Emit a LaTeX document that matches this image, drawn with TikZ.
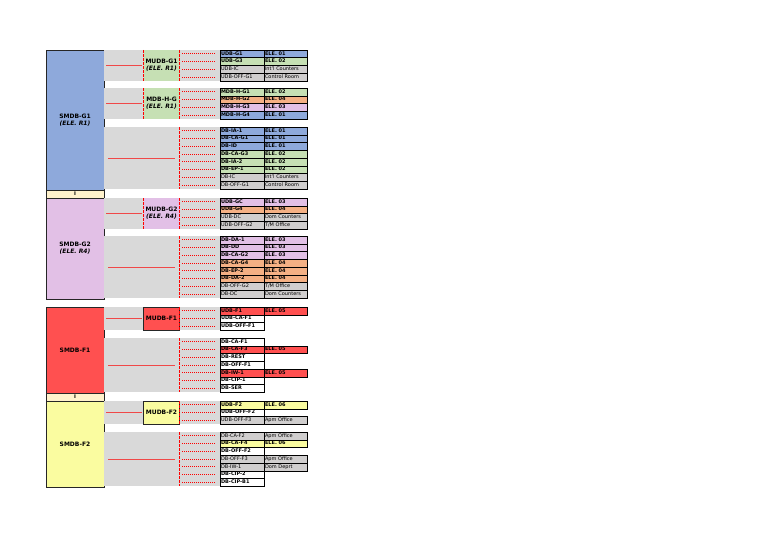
\documentclass[tikz,border=0pt]{standalone}
\usepackage{fontspec}
\setmainfont{DejaVu Sans}
\usetikzlibrary{calc, positioning}

\definecolor{eleblue}{HTML}{8EA9DB}
\definecolor{elegreen}{HTML}{C6E0B4}
\definecolor{elelilac}{HTML}{E2C0E6}
\definecolor{eleorange}{HTML}{F4B084}
\definecolor{elegray}{HTML}{D0CECE}
\definecolor{elered}{HTML}{FF5050}
\definecolor{eleyellow}{HTML}{FAFCA0}
\definecolor{eletie}{HTML}{FFF2CC}
\definecolor{bandgray}{HTML}{D9D9D9}
\definecolor{busred}{HTML}{FF0000}
\definecolor{feedred}{HTML}{F04848}

\tikzstyle{smdb}=[draw=black!85, line width=0.7pt, outer sep=0pt, minimum width=58pt, anchor=north west, inner sep=0pt, align=center, font=\fontsize{6}{7}\selectfont\bfseries]
\tikzstyle{tie}=[draw=black!85, line width=0.6pt, outer sep=0pt, fill=eletie, minimum width=58pt, minimum height=8pt, inner sep=0pt, font=\fontsize{5}{5}\selectfont\bfseries]
\tikzstyle{band}=[fill=bandgray, minimum width=116pt, anchor=north west, inner sep=0pt, outer sep=0pt]
\tikzstyle{mudb}=[minimum width=36pt, anchor=north west, inner sep=0pt, outer sep=0pt, align=center, font=\fontsize{6}{7}\selectfont\bfseries]
\tikzstyle{dbcell}=[draw=black, line width=0.5pt, outer sep=0pt, anchor=north west, minimum width=44pt, minimum height=7.75pt, text width=42pt, text height=3.6pt, text depth=1pt, inner ysep=0pt, inner xsep=1pt, align=left, font=\fontsize{5}{6}\selectfont\bfseries]
\tikzstyle{elecell}=[dbcell, minimum width=43pt, text width=41pt]
\tikzstyle{bus}=[color=busred, line width=1.2pt, dash pattern=on 3pt off 1pt]
\tikzstyle{feed}=[color=feedred, line width=1pt]
\tikzstyle{tap}=[color=busred, line width=1pt, dash pattern=on 1pt off 1pt, shorten <=2.5pt, shorten >=5pt]
\tikzstyle{eblue}=[fill=eleblue]
\tikzstyle{egreen}=[fill=elegreen]
\tikzstyle{elilac}=[fill=elelilac]
\tikzstyle{eorange}=[fill=eleorange]
\tikzstyle{ered}=[fill=elered]
\tikzstyle{eyellow}=[fill=eleyellow]
\tikzstyle{ewhite}=[fill=white]
\tikzstyle{egray}=[fill=elegray, font=\fontsize{5}{6}\selectfont]

\begin{document}
\begin{tikzpicture}[x=1pt, y=-1pt]
  \useasboundingbox (0,0) rectangle (768,543);

  % main boards
  \node[smdb, fill=eleblue, minimum height=140pt] (smdb-g1) at (46,50) {SMDB-G1\\\textit{(ELE. R1)}};
  \node[tie, below=0pt of smdb-g1] (tie-g) {I};
  \node[smdb, fill=elelilac, minimum height=101pt, below=0pt of tie-g] (smdb-g2) {SMDB-G2\\\textit{(ELE. R4)}};
  \node[smdb, fill=elered, minimum height=86pt] (smdb-f1) at (46,307) {SMDB-F1};
  \node[tie, below=0pt of smdb-f1] (tie-f) {I};
  \node[smdb, fill=eleyellow, minimum height=86pt, below=0pt of tie-f] (smdb-f2) {SMDB-F2};

  % group 1
  \node[band, minimum height=31pt] (band1) at (104,50) {};
  \node[mudb, fill=elegreen, minimum height=31pt] (m1) at (143.5,50) {MUDB-G1\\\textit{(ELE. R1)}};
  \draw[bus] (m1.north west) -- (m1.south west);
  \draw[bus] (m1.north east) -- (m1.south east);
  \draw[feed, shorten <=2pt, shorten >=2pt] (band1.west |- m1.west) -- (m1.west);
  \foreach \db/\ele/\tone [count=\i] in {UDB-G1/ELE. 01/eblue, UDB-G3/ELE. 02/egreen, UDB-IC/Int'l Counters/egray, UDB-OFF-G1/Control Room/egray}{
    \node[dbcell, \tone] (c1-\i) at (220,{50+(\i-1)*7.75}) {\db};
    \ifx\ele\empty\else \node[elecell, \tone, right=0pt of c1-\i] (e1-\i) {\ele}; \fi
    \pgfmathsetmacro\ty{floor(50+(\i-0.5)*7.75)+0.5}
    \coordinate (t1-\i) at (179.5,\ty);
    \draw[tap] (t1-\i) -- (c1-\i.west |- t1-\i);
  }

  % group 2
  \node[band, minimum height=31pt] (band2) at (104,88) {};
  \node[mudb, fill=elegreen, minimum height=31pt] (m2) at (143.5,88) {MDB-H-G\\\textit{(ELE. R1)}};
  \draw[bus] (m2.north west) -- (m2.south west);
  \draw[bus] (m2.north east) -- (m2.south east);
  \draw[feed, shorten <=2pt, shorten >=2pt] (band2.west |- m2.west) -- (m2.west);
  \foreach \db/\ele/\tone [count=\i] in {MDB-H-G1/ELE. 02/egreen, MDB-H-G2/ELE. 04/eorange, MDB-H-G3/ELE. 03/elilac, MDB-H-G4/ELE. 01/eblue}{
    \node[dbcell, \tone] (c2-\i) at (220,{88+(\i-1)*7.75}) {\db};
    \ifx\ele\empty\else \node[elecell, \tone, right=0pt of c2-\i] (e2-\i) {\ele}; \fi
    \pgfmathsetmacro\ty{floor(88+(\i-0.5)*7.75)+0.5}
    \coordinate (t2-\i) at (179.5,\ty);
    \draw[tap] (t2-\i) -- (c2-\i.west |- t2-\i);
  }

  % group 3
  \node[band, minimum height=62pt] (band3) at (104,127) {};
  \coordinate (bus3) at (179.5,158.5);
  \draw[bus] (bus3 |- band3.north) -- (bus3 |- band3.south);
  \draw[feed, shorten <=4pt, shorten >=5pt] (band3.west |- bus3) -- (bus3);
  \foreach \db/\ele/\tone [count=\i] in {DB-IA-1/ELE. 01/eblue, DB-CA-G1/ELE. 01/eblue, DB-ID/ELE. 01/eblue, DB-CA-G3/ELE. 02/egreen, DB-IA-2/ELE. 02/egreen, DB-EP-1/ELE. 02/egreen, DB-IC/Int'l Counters/egray, DB-OFF-G1/Control Room/egray}{
    \node[dbcell, \tone] (c3-\i) at (220,{127+(\i-1)*7.75}) {\db};
    \ifx\ele\empty\else \node[elecell, \tone, right=0pt of c3-\i] (e3-\i) {\ele}; \fi
    \pgfmathsetmacro\ty{floor(127+(\i-0.5)*7.75)+0.5}
    \coordinate (t3-\i) at (179.5,\ty);
    \draw[tap] (t3-\i) -- (c3-\i.west |- t3-\i);
  }

  % group 4
  \node[band, minimum height=31pt] (band4) at (104,198) {};
  \node[mudb, fill=elelilac, minimum height=31pt] (m4) at (143.5,198) {MUDB-G2\\\textit{(ELE. R4)}};
  \draw[bus] (m4.north west) -- (m4.south west);
  \draw[bus] (m4.north east) -- (m4.south east);
  \draw[feed, shorten <=2pt, shorten >=2pt] (band4.west |- m4.west) -- (m4.west);
  \foreach \db/\ele/\tone [count=\i] in {UDB-GC/ELE. 03/elilac, UDB-G4/ELE. 04/eorange, UDB-DC/Dom Counters/egray, UDB-OFF-G2/{T/M Office}/egray}{
    \node[dbcell, \tone] (c4-\i) at (220,{198+(\i-1)*7.75}) {\db};
    \ifx\ele\empty\else \node[elecell, \tone, right=0pt of c4-\i] (e4-\i) {\ele}; \fi
    \pgfmathsetmacro\ty{floor(198+(\i-0.5)*7.75)+0.5}
    \coordinate (t4-\i) at (179.5,\ty);
    \draw[tap] (t4-\i) -- (c4-\i.west |- t4-\i);
  }

  % group 5
  \node[band, minimum height=62pt] (band5) at (104,236) {};
  \coordinate (bus5) at (179.5,267.5);
  \draw[bus] (bus5 |- band5.north) -- (bus5 |- band5.south);
  \draw[feed, shorten <=4pt, shorten >=5pt] (band5.west |- bus5) -- (bus5);
  \foreach \db/\ele/\tone [count=\i] in {DB-DA-1/ELE. 03/elilac, DB-DD/ELE. 03/elilac, DB-CA-G2/ELE. 03/elilac, DB-CA-G4/ELE. 04/eorange, DB-EP-2/ELE. 04/eorange, DB-DA-2/ELE. 04/eorange, DB-OFF-G2/{T/M Office}/egray, DB-DC/Dom Counters/egray}{
    \node[dbcell, \tone] (c5-\i) at (220,{236+(\i-1)*7.75}) {\db};
    \ifx\ele\empty\else \node[elecell, \tone, right=0pt of c5-\i] (e5-\i) {\ele}; \fi
    \pgfmathsetmacro\ty{floor(236+(\i-0.5)*7.75)+0.5}
    \coordinate (t5-\i) at (179.5,\ty);
    \draw[tap] (t5-\i) -- (c5-\i.west |- t5-\i);
  }

  % group 6
  \node[band, minimum height=23.25pt] (band6) at (104,307) {};
  \node[mudb, fill=elered, draw=black!85, line width=0.7pt, minimum height=23pt] (m6) at (143.5,307) {MUDB-F1};
  \draw[bus] (m6.north east) -- (m6.south east);
  \draw[feed, shorten <=2pt, shorten >=2pt] (band6.west |- m6.west) -- (m6.west);
  \foreach \db/\ele/\tone [count=\i] in {UDB-F1/ELE. 05/ered, UDB-CA-F1//ewhite, UDB-OFF-F1//ewhite}{
    \node[dbcell, \tone] (c6-\i) at (220,{307+(\i-1)*7.75}) {\db};
    \ifx\ele\empty\else \node[elecell, \tone, right=0pt of c6-\i] (e6-\i) {\ele}; \fi
    \pgfmathsetmacro\ty{floor(307+(\i-0.5)*7.75)+0.5}
    \coordinate (t6-\i) at (179.5,\ty);
    \draw[tap] (t6-\i) -- (c6-\i.west |- t6-\i);
  }

  % group 7
  \node[band, minimum height=54.25pt] (band7) at (104,338) {};
  \coordinate (bus7) at (179.5,365.5);
  \draw[bus] (bus7 |- band7.north) -- (bus7 |- band7.south);
  \draw[feed, shorten <=4pt, shorten >=5pt] (band7.west |- bus7) -- (bus7);
  \foreach \db/\ele/\tone [count=\i] in {DB-CA-F1//ewhite, DB-CA-F3/ELE. 05/ered, DB-REST//ewhite, DB-OFF-F1//ewhite, DB-IW-1/ELE. 05/ered, DB-CIP-1//ewhite, DB-SER//ewhite}{
    \node[dbcell, \tone] (c7-\i) at (220,{338+(\i-1)*7.75}) {\db};
    \ifx\ele\empty\else \node[elecell, \tone, right=0pt of c7-\i] (e7-\i) {\ele}; \fi
    \pgfmathsetmacro\ty{floor(338+(\i-0.5)*7.75)+0.5}
    \coordinate (t7-\i) at (179.5,\ty);
    \draw[tap] (t7-\i) -- (c7-\i.west |- t7-\i);
  }

  % group 8
  \node[band, minimum height=23.25pt] (band8) at (104,401) {};
  \node[mudb, fill=eleyellow, draw=black!85, line width=0.7pt, minimum height=23pt] (m8) at (143.5,401) {MUDB-F2};
  \draw[bus] (m8.north east) -- (m8.south east);
  \draw[feed, shorten <=2pt, shorten >=2pt] (band8.west |- m8.west) -- (m8.west);
  \foreach \db/\ele/\tone [count=\i] in {UDB-F2/ELE. 06/eyellow, UDB-OFF-F2//ewhite, UDB-OFF-F3/Apm Office/egray}{
    \node[dbcell, \tone] (c8-\i) at (220,{401+(\i-1)*7.75}) {\db};
    \ifx\ele\empty\else \node[elecell, \tone, right=0pt of c8-\i] (e8-\i) {\ele}; \fi
    \pgfmathsetmacro\ty{floor(401+(\i-0.5)*7.75)+0.5}
    \coordinate (t8-\i) at (179.5,\ty);
    \draw[tap] (t8-\i) -- (c8-\i.west |- t8-\i);
  }

  % group 9
  \node[band, minimum height=54.25pt] (band9) at (104,432) {};
  \coordinate (bus9) at (179.5,459.5);
  \draw[bus] (bus9 |- band9.north) -- (bus9 |- band9.south);
  \draw[feed, shorten <=4pt, shorten >=5pt] (band9.west |- bus9) -- (bus9);
  \foreach \db/\ele/\tone [count=\i] in {DB-CA-F2/Apm Office/egray, DB-CA-F4/ELE. 06/eyellow, DB-OFF-F2//ewhite, DB-OFF-F3/Apm Office/egray, DB-IW-1/Dom Deprt/egray, DB-CIP-2//ewhite, DB-CIP-B1//ewhite}{
    \node[dbcell, \tone] (c9-\i) at (220,{432+(\i-1)*7.75}) {\db};
    \ifx\ele\empty\else \node[elecell, \tone, right=0pt of c9-\i] (e9-\i) {\ele}; \fi
    \pgfmathsetmacro\ty{floor(432+(\i-0.5)*7.75)+0.5}
    \coordinate (t9-\i) at (179.5,\ty);
    \draw[tap] (t9-\i) -- (c9-\i.west |- t9-\i);
  }
\end{tikzpicture}
\end{document}
